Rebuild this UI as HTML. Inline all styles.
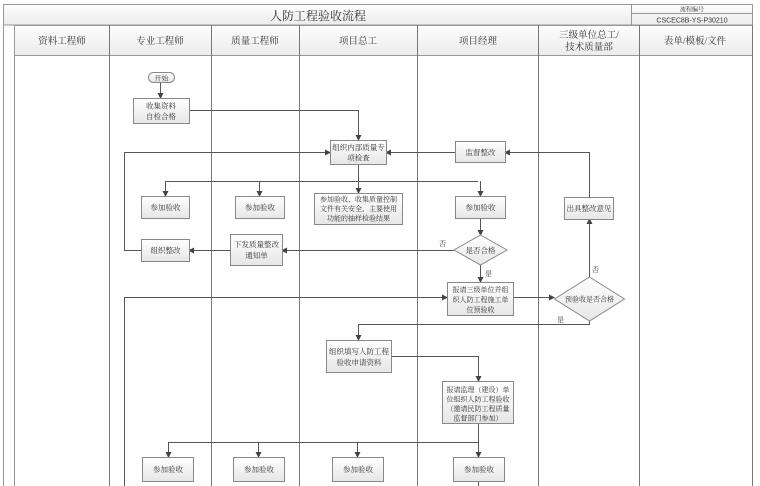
<!DOCTYPE html>
<html><head><meta charset="utf-8"><style>
html,body{margin:0;padding:0;background:#fff;}
svg{display:block;}
text{font-family:"Liberation Serif","Noto Serif CJK SC","Noto Sans CJK SC",serif;fill:#333;}
</style></head><body>
<svg width="760" height="486" viewBox="0 0 760 486" xmlns="http://www.w3.org/2000/svg">
<defs>
<linearGradient id="hg" x1="0" y1="0" x2="0" y2="1"><stop offset="0" stop-color="#fdfdfd"/><stop offset="1" stop-color="#ececec"/></linearGradient>
<linearGradient id="bg" x1="0" y1="0" x2="0" y2="1"><stop offset="0" stop-color="#ffffff"/><stop offset="1" stop-color="#e6e6e6"/></linearGradient>
<marker id="a" markerWidth="6" markerHeight="6" refX="5" refY="3" orient="auto" markerUnits="userSpaceOnUse"><path d="M0,0 L6,3 L0,6 z" fill="#444"/></marker>
</defs>
<rect x="3.5" y="4.5" width="749" height="490" fill="none" stroke="#999"/>
<rect x="3.5" y="4.5" width="749" height="20.5" fill="url(#hg)" stroke="#999"/>
<text x="318" y="20" font-size="12" text-anchor="middle">人防工程验收流程</text>
<rect x="631.5" y="4.5" width="121" height="20.5" fill="url(#hg)" stroke="#999"/>
<line x1="631" y1="13.5" x2="752" y2="13.5" stroke="#999"/>
<text x="692" y="11.5" font-size="6" text-anchor="middle">流程编号</text>
<text x="692" y="22.5" font-size="7" text-anchor="middle" style="font-family:'Liberation Sans',sans-serif">CSCEC8B-YS-P30210</text>
<rect x="14.5" y="25.5" width="738" height="30" fill="url(#hg)" stroke="#999"/>
<line x1="14.5" y1="25" x2="14.5" y2="486" stroke="#999"/>
<g stroke="#777" stroke-width="1">
<line x1="109.5" y1="25" x2="109.5" y2="486"/>
<line x1="211.5" y1="25" x2="211.5" y2="486"/>
<line x1="299.5" y1="25" x2="299.5" y2="486"/>
<line x1="417.5" y1="25" x2="417.5" y2="486"/>
<line x1="538.5" y1="25" x2="538.5" y2="486"/>
<line x1="639.5" y1="25" x2="639.5" y2="486"/>
<line x1="752.5" y1="25" x2="752.5" y2="486"/>
</g>
<g font-size="9.5" text-anchor="middle">
<text x="62" y="44">资料工程师</text>
<text x="160" y="44">专业工程师</text>
<text x="255" y="44">质量工程师</text>
<text x="358" y="44">项目总工</text>
<text x="478" y="44">项目经理</text>
<text x="589" y="38">三级单位总工/</text>
<text x="589" y="50">技术质量部</text>
<text x="695" y="44">表单/模板/文件</text>
</g>
<g stroke="#555" stroke-width="1" fill="none">
<line x1="160.5" y1="82" x2="160.5" y2="98" marker-end="url(#a)"/>
<polyline points="189,110.5 358.5,110.5 358.5,140" marker-end="url(#a)"/>
<polyline points="358.5,164 358.5,181.5" />
<line x1="165" y1="181.5" x2="478" y2="181.5"/>
<line x1="165.5" y1="181" x2="165.5" y2="196" marker-end="url(#a)"/>
<line x1="259.5" y1="181" x2="259.5" y2="196" marker-end="url(#a)"/>
<line x1="358.5" y1="181" x2="358.5" y2="193" marker-end="url(#a)"/>
<line x1="480.5" y1="181" x2="480.5" y2="196" marker-end="url(#a)"/>
<line x1="480.5" y1="218" x2="480.5" y2="235" marker-end="url(#a)"/>
<line x1="454" y1="250.5" x2="282" y2="250.5" marker-end="url(#a)"/>
<line x1="230" y1="250.5" x2="189" y2="250.5" marker-end="url(#a)"/>
<polyline points="141,250.5 124.5,250.5 124.5,152.5 330,152.5" marker-end="url(#a)"/>
<line x1="455" y1="152.5" x2="386" y2="152.5" marker-end="url(#a)"/>
<line x1="480.5" y1="265" x2="480.5" y2="282" marker-end="url(#a)"/>
<polyline points="124.5,486 124.5,297.5 447,297.5" marker-end="url(#a)"/>
<line x1="513" y1="297.5" x2="554" y2="297.5" marker-end="url(#a)"/>
<line x1="589.5" y1="277" x2="589.5" y2="219" marker-end="url(#a)"/>
<polyline points="589.5,197 589.5,152.5 505,152.5" marker-end="url(#a)"/>
<polyline points="589.5,321 589.5,324.5 358.5,324.5 358.5,340" marker-end="url(#a)"/>
<polyline points="391,356.5 478.5,356.5 478.5,381" marker-end="url(#a)"/>
<line x1="478.5" y1="423" x2="478.5" y2="442"/>
<line x1="168" y1="442.5" x2="478" y2="442.5"/>
<line x1="168.5" y1="442" x2="168.5" y2="457" marker-end="url(#a)"/>
<line x1="258.5" y1="442" x2="258.5" y2="457" marker-end="url(#a)"/>
<line x1="357.5" y1="442" x2="357.5" y2="457" marker-end="url(#a)"/>
<line x1="478.5" y1="442" x2="478.5" y2="457" marker-end="url(#a)"/>
<line x1="478.5" y1="481" x2="478.5" y2="486"/>
</g>
<g stroke="#888" stroke-width="1" fill="url(#bg)">
<rect x="148.5" y="72.5" width="26" height="10" rx="5"/>
<rect x="133.5" y="98.5" width="56" height="25"/>
<rect x="330.5" y="140.5" width="56" height="24"/>
<rect x="455.5" y="141.5" width="50" height="21"/>
<rect x="141.5" y="196.5" width="48" height="22"/>
<rect x="235.5" y="196.5" width="49" height="22"/>
<rect x="314.5" y="193.5" width="88" height="31"/>
<rect x="455.5" y="196.5" width="50" height="22"/>
<rect x="564.5" y="197.5" width="49" height="22"/>
<polygon points="480.5,235 507,250 480.5,265 454,250"/>
<rect x="230.5" y="234.5" width="52" height="31"/>
<rect x="141.5" y="239.5" width="48" height="22"/>
<rect x="447.5" y="282.5" width="66" height="33"/>
<polygon points="589.5,277 624.5,299 589.5,321 554.5,299"/>
<rect x="326.5" y="340.5" width="65" height="32"/>
<rect x="442.5" y="381.5" width="71" height="42"/>
<rect x="142.5" y="457.5" width="51" height="24"/>
<rect x="233.5" y="457.5" width="51" height="24"/>
<rect x="332.5" y="457.5" width="51" height="24"/>
<rect x="453.5" y="457.5" width="51" height="24"/>
</g>
<g font-size="7.5" text-anchor="middle">
<text x="161.5" y="80.5" font-size="7">开始</text>
<text x="161" y="108.5">收集资料</text>
<text x="161" y="119">自检合格</text>
<text x="358.5" y="150">组织内部质量专</text>
<text x="358.5" y="160.5">项检查</text>
<text x="480.5" y="155">监督整改</text>
<text x="165.5" y="210">参加验收</text>
<text x="260" y="210">参加验收</text>
<text x="358.5" y="201.5" font-size="7">参加验收，收集质量控制</text>
<text x="358.5" y="211" font-size="7">文件有关安全、主要使用</text>
<text x="358.5" y="220.5" font-size="7">功能的抽样检验结果</text>
<text x="480.5" y="210">参加验收</text>
<text x="589" y="211">出具整改意见</text>
<text x="480.5" y="253">是否合格</text>
<text x="256.5" y="247">下发质量整改</text>
<text x="256.5" y="258">通知单</text>
<text x="165.5" y="253">组织整改</text>
<text x="480.5" y="292" font-size="7">报请三级单位并组</text>
<text x="480.5" y="302" font-size="7">织人防工程施工单</text>
<text x="480.5" y="312" font-size="7">位预验收</text>
<text x="589.5" y="301.5" font-size="7">预验收是否合格</text>
<text x="359" y="354">组织填写人防工程</text>
<text x="359" y="365">验收申请资料</text>
<text x="478" y="392" font-size="7">报请监理（建设）单</text>
<text x="478" y="401.5" font-size="7">位组织人防工程验收</text>
<text x="478" y="411" font-size="7">（邀请民防工程质量</text>
<text x="478" y="420.5" font-size="7">监督部门参加）</text>
<text x="168" y="472">参加验收</text>
<text x="259" y="472">参加验收</text>
<text x="358" y="472">参加验收</text>
<text x="479" y="472">参加验收</text>
</g>
<g font-size="7">
<text x="439" y="246">否</text>
<text x="485" y="276">是</text>
<text x="592" y="272">否</text>
<text x="557" y="322">是</text>
</g>
</svg>
</body></html>
